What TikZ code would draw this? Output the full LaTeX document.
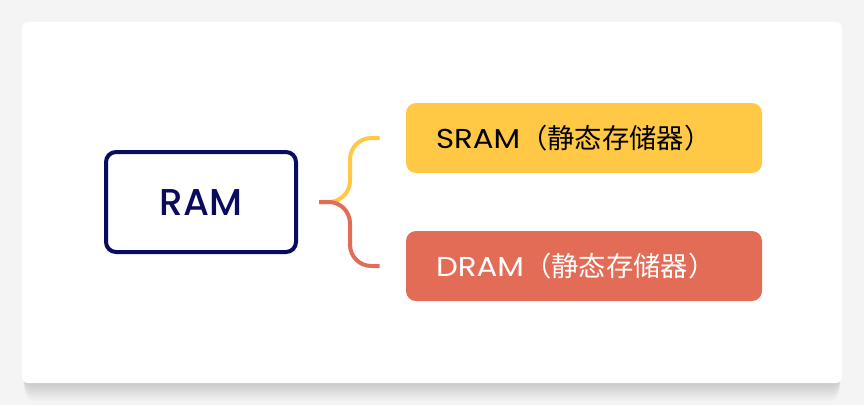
\documentclass[tikz,border=0pt]{standalone}
\usepackage{fontspec}
\setmainfont{Poppins}[FakeStretch=1.13]
\newfontfamily\popm{Poppins Medium}
\newfontfamily\cjk{Noto Sans CJK SC}
\definecolor{bgc}{HTML}{F4F4F4}
\definecolor{navy}{HTML}{0B0B5E}
\definecolor{sun}{HTML}{FFC845}
\definecolor{coral}{HTML}{E36C57}
\tikzset{
  ramnode/.style={draw=navy, line width=3pt, rounded corners=7.5pt, fill=white,
    minimum width=142.5pt, minimum height=75pt, inner sep=0pt, text=navy,
    font=\popm\fontsize{28}{30}\selectfont},
  memnode/.style={rounded corners=7.5pt, minimum height=52.5pt, text width=222pt,
    inner xsep=22.5pt, inner ysep=0pt, align=left,
    font=\fontsize{20.5}{24}\selectfont},
  bracel/.style={line width=3pt, rounded corners=16pt}
}
\begin{document}
\begin{tikzpicture}[x=0.75pt,y=-0.75pt]
\fill[bgc] (0,0) rectangle (864,405);
\useasboundingbox (0,0) rectangle (864,405);
% card shadow
\foreach \i in {1,...,14}
  \fill[black,opacity=0.01,rounded corners=8pt] (22+\i*0.2,26) rectangle (842-\i*0.2,383+\i*1.3);
\fill[white,rounded corners=4.5pt] (22,22) rectangle (842,383);
% nodes
\node[ramnode] (ram) at (201,202) {RAM};
\node[memnode, fill=sun, text=black] (sram) at (584,138) {SRAM{\cjk （静态存储器）}};
\node[memnode, fill=coral, text=white] (dram) at (584,266) {DRAM{\cjk （静态存储器）}};
% brace
\coordinate (bl) at (319,202);
\coordinate (bt) at ([xshift=-19.5pt]sram.west);
\coordinate (bb) at ([xshift=-19.5pt]dram.west);
\draw[bracel, sun] (bl) -| (350,138) -- (bt);
\draw[bracel, coral] (bl) -| (350,266) -- (bb);
\end{tikzpicture}
\end{document}
